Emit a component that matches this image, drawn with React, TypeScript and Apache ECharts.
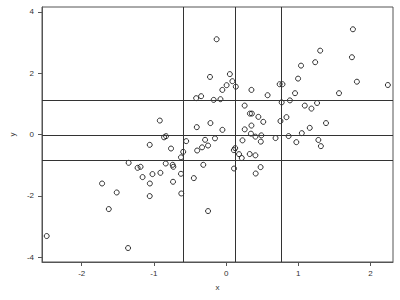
import React, { useEffect, useRef } from "react";
import * as echarts from "echarts";

// Scatter points
const xValues = [
  -2.485, -1.718, -1.625, -1.515, -1.358, -1.35, -1.226, -1.185, -1.157, -1.058,
  -1.056, -1.058, -1.02, -0.918, -0.91, -0.859, -0.832, -0.836, -0.763, -0.74,
  -0.731, -0.735, -0.625, -0.625, -0.621, -0.594, -0.553, -0.447, -0.415, -0.346,
  -0.406, -0.401, -0.333, -0.291, -0.316, -0.25, -0.25, -0.223, -0.131, -0.217,
  -0.172, -0.154, -0.078, -0.052, -0.051, 0.007, 0.052, 0.087, 0.135, 0.107,
  0.126, 0.179, 0.217, 0.11, 0.227, 0.257, 0.258, 0.327, 0.33, 0.357,
  0.351, 0.344, 0.351, 0.406, 0.406, 0.41, 0.447, 0.478, 0.481, 0.488,
  0.515, 0.575, 0.685, 0.742, 0.781, 0.753, 0.77, 0.836, 0.866, 0.884,
  0.955, 0.973, 0.997, 1.038, 1.049, 1.09, 1.159, 1.182, 1.234, 1.26,
  1.278, 1.303, 1.313, 1.384, 1.564, 1.743, 1.757, 1.812, 2.241,
];
const yValues = [
  -3.315, -1.6, -2.435, -1.893, -3.707, -0.925, -1.088, -1.055, -1.391, -0.338,
  -1.6, -2.011, -1.293, 0.455, -1.251, -0.093, -0.054, -0.947, -0.458, -0.99,
  -1.055, -1.544, -0.745, -1.283, -1.926, -0.566, -0.217, -1.424, 1.186, 1.251,
  0.24, -0.523, -0.419, -0.174, -0.99, -0.36, -2.5, 1.88, 3.11, 0.373,
  1.13, -0.126, 1.153, 1.456, 0.152, 1.61, 1.972, 1.74, 1.561, -0.51,
  -0.445, -0.641, -0.768, -1.111, -0.191, 0.944, 0.168, -0.638, 0.683, 0.683,
  0.292, 0.028, 1.456, -0.07, -0.68, -1.274, 0.576, -1.065, -0.233, -0.028,
  0.413, 1.283, -0.116, 1.642, 1.642, 0.439, 1.049, 0.566, -0.051, 1.114,
  1.349, -0.25, 1.825, 2.249, 0.044, 0.944, 0.217, 0.846, 2.36, 1.029,
  -0.178, 2.738, -0.38, 0.373, 1.349, 2.523, 3.436, 1.724, 1.616,
];

// Reference lines
const refX = [-0.598, 0.121, 0.767];
const refY = [1.107, -0.044, -0.85];

// Tick labels
const xTicks = [-2, -1, 0, 1, 2];
const yTicks = [-4, -2, 0, 2, 4];

const xRange = [-2.55, 2.312];
const yRange = [-4.163, 4.163];

export default function App() {
  const ref = useRef<HTMLDivElement>(null);

  useEffect(() => {
    if (!ref.current) return;
    const chart = echarts.init(ref.current, undefined, { renderer: "svg" });
    const data = xValues.map((x, i) => [x, yValues[i]]);
    const font = "Liberation Sans, Arial, sans-serif";
    const axisCommon = {
      type: "value" as const,
      splitLine: { show: false },
      axisLine: { show: true, onZero: false, lineStyle: { color: "#555", width: 1 } },
      axisTick: { show: true, length: 4, inside: false, lineStyle: { color: "#555" } },
      nameLocation: "middle" as const,
      nameTextStyle: { fontFamily: font, fontSize: 8, color: "#333" },
    };
    chart.setOption({
      animation: false,
      backgroundColor: "#fff",
      grid: {
        left: 39,
        top: 7,
        right: 7,
        bottom: 38,
        show: true,
        borderColor: "#555",
        borderWidth: 1,
        backgroundColor: "transparent",
      },
      xAxis: {
        ...axisCommon,
        min: xRange[0],
        max: xRange[1],
        name: "x",
        nameGap: 21,
        axisTick: { ...axisCommon.axisTick, customValues: xTicks },
        axisLabel: {
          customValues: xTicks,
          margin: 7,
          fontFamily: font,
          fontSize: 8,
          color: "#333",
        },
      },
      yAxis: {
        ...axisCommon,
        min: yRange[0],
        max: yRange[1],
        name: "y",
        nameGap: 24,
        axisTick: { ...axisCommon.axisTick, customValues: yTicks },
        axisLabel: {
          customValues: yTicks,
          margin: 8,
          fontFamily: font,
          fontSize: 8,
          color: "#333",
        },
      },
      series: [
        {
          type: "scatter",
          data,
          symbol: "circle",
          symbolSize: 5,
          itemStyle: { color: "transparent", borderColor: "#000", borderWidth: 1 },
          emphasis: { disabled: true },
          markLine: {
            silent: true,
            symbol: ["none", "none"],
            label: { show: false },
            lineStyle: { color: "#333", width: 1, type: "solid" },
            emphasis: { disabled: true },
            data: [
              ...refX.map((v) => ({ xAxis: v })),
              ...refY.map((v) => ({ yAxis: v })),
            ],
          },
        },
      ],
    });
    return () => chart.dispose();
  }, []);

  return (
    <div
      ref={ref}
      style={{ position: "fixed", left: 0, top: 0, width: 400, height: 300, background: "#fff" }}
    />
  );
}
